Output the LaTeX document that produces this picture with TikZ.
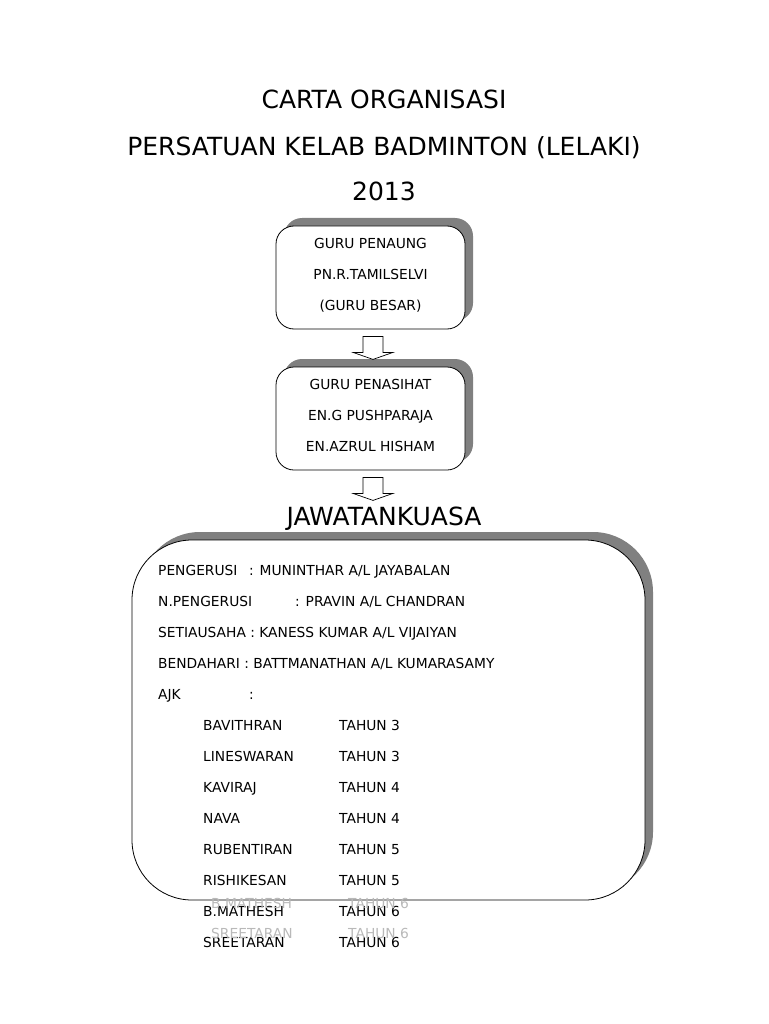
\documentclass[tikz,border=0pt]{standalone}
\usepackage{fontspec}
\setmainfont{DejaVu Sans}
\usetikzlibrary{shadows}

\tikzset{
  grayshadow/.style={drop shadow={shadow xshift=8pt, shadow yshift=8pt, fill=gray, opacity=1}},
  panel/.style={draw, fill=white, line width=0.8pt, rounded corners=18pt, grayshadow,
    minimum width=189pt, minimum height=103pt, inner sep=0pt, align=center, text depth=6pt,
    font=\fontsize{13.8}{31}\selectfont},
  heading/.style={anchor=base, inner sep=0pt, font=\fontsize{25}{30}\selectfont},
  row/.style={anchor=base west, inner sep=0pt, font=\fontsize{13.8}{16}\selectfont},
  ghost/.style={row, text=gray!55}
}

\begin{document}
\begin{tikzpicture}[x=1pt, y=-1pt] % y runs downward, like the image
\useasboundingbox (0,0) rectangle (768,1024);

% titles
\node[heading] (t1) at (384,109) {CARTA ORGANISASI};
\node[heading] (t2) at (384,156) {PERSATUAN KELAB BADMINTON (LELAKI)};
\node[heading] (t3) at (384,201) {2013};

% teachers
\node[panel] (pen) at (370.5,277.5) {GURU PENAUNG\\PN.R.TAMILSELVI\\(GURU BESAR)};
\node[panel] (pns) at (370.5,418.5) {GURU PENASIHAT\\EN.G PUSHPARAJA\\EN.AZRUL HISHAM};

% hollow arrows below each box
\foreach \b in {pen, pns}
\draw[line width=0.7pt, fill=white] (\b.south) ++(-7.5,7) -- ++(20,0) -- ++(0,16) -- ++(10,0)
  -- ++(-20,7) -- ++(-20,-7) -- ++(10,0) -- cycle;

\node[heading] (jt) at (384,525) {JAWATANKUASA};

% committee box
\node[draw, fill=white, line width=0.8pt, rounded corners=60pt, grayshadow,
  minimum width=513pt, minimum height=360pt] (jwk) at (388.5,720) {};

\node[row] (r1) at (158,575) {\makebox[91pt][l]{PENGERUSI}: MUNINTHAR A/L JAYABALAN};
\node[row] (r2) at (158,606) {\makebox[137pt][l]{N.PENGERUSI}: PRAVIN A/L CHANDRAN};
\node[row] (r3) at (158,637) {SETIAUSAHA : KANESS KUMAR A/L VIJAIYAN};
\node[row] (r4) at (158,668) {BENDAHARI : BATTMANATHAN A/L KUMARASAMY};
\node[row] (r5) at (158,699) {\makebox[91pt][l]{AJK}:};

% members
\foreach \nm/\yr [count=\i from 0] in {BAVITHRAN/3, LINESWARAN/3, KAVIRAJ/4, NAVA/4,
  RUBENTIRAN/5, RISHIKESAN/5, B.MATHESH/6, SREETARAN/6}
{
  \node[row] (m\i) at (203,730+31*\i) {\nm};
  \node[row] (y\i) at (339,730+31*\i) {TAHUN \yr};
}

% faint copies of the last two rows
\node[ghost] (g1) at (211,908) {B.MATHESH};
\node[ghost] (g2) at (348,908) {TAHUN 6};
\node[ghost] (g3) at (211,938) {SREETARAN};
\node[ghost] (g4) at (348,938) {TAHUN 6};
\end{tikzpicture}
\end{document}
